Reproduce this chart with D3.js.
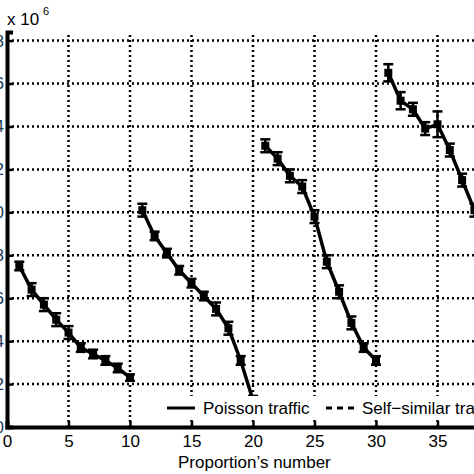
<!DOCTYPE html>
<html lang="en">
<head>
<meta charset="UTF-8">
<script src="https://d3js.org/d3.v7.min.js"></script>
<style>
  body { margin: 0; background: #fff; font-family: "Liberation Sans", Arial, sans-serif; }
  svg { display: block; overflow: hidden; }
</style>
</head>
<body>
<div class="chart"></div>
<script>
const proportions = d3.range(1, 41);
const delayValues = [7.5, 6.4, 5.7, 5.0, 4.4, 3.7, 3.4, 3.1, 2.75, 2.3,
                     10.1, 8.9, 8.1, 7.3, 6.7, 6.1, 5.5, 4.6, 3.1, 1.25,
                     13.1, 12.5, 11.7, 11.2, 9.8, 7.7, 6.3, 4.85, 3.7, 3.1,
                     16.5, 15.2, 14.8, 13.9, 14.1, 12.9, 11.5, 10.1, 8.7, 7.3];
const delayErrors = [0.2, 0.3, 0.3, 0.3, 0.3, 0.2, 0.2, 0.2, 0.2, 0.15,
                     0.3, 0.2, 0.2, 0.2, 0.2, 0.2, 0.3, 0.3, 0.2, 0.2,
                     0.3, 0.3, 0.3, 0.3, 0.3, 0.3, 0.3, 0.3, 0.2, 0.2,
                     0.4, 0.4, 0.3, 0.3, 0.6, 0.3, 0.3, 0.3, 0.3, 0.3];
const xTicks = [0, 5, 10, 15, 20, 25, 30, 35, 40];
const yTicks = [0, 2, 4, 6, 8, 10, 12, 14, 16, 18];

const svgWidth = 474, svgHeight = 474;
const margin = { top: 32, left: 7, bottom: 47 };

const svg = d3.select('.chart').append('svg')
  .attr('width', svgWidth).attr('height', svgHeight);

const x = d3.scaleLinear().domain([0, 40]).range([margin.left, margin.left + 492]);
const y = d3.scaleLinear().domain([0, 18.4]).range([svgHeight - margin.bottom, margin.top]);

const grid = svg.append('g').attr('stroke', '#000').attr('stroke-width', 2.5)
  .attr('stroke-dasharray', '2,3');
grid.selectAll('.gx').data(xTicks.slice(1)).enter().append('line')
  .attr('x1', d => x(d)).attr('x2', d => x(d)).attr('y1', y(0)).attr('y2', margin.top);
grid.selectAll('.gy').data(yTicks.slice(1)).enter().append('line')
  .attr('x1', x(0)).attr('x2', x(40)).attr('y1', d => y(d)).attr('y2', d => y(d));

const xAxis = svg.append('g').attr('transform', `translate(0,${y(0)})`)
  .call(d3.axisBottom(x).tickValues(xTicks).tickSize(-6).tickPadding(8));
const yAxis = svg.append('g').attr('transform', `translate(${x(0)},0)`)
  .call(d3.axisLeft(y).tickValues(yTicks).tickSize(-6).tickPadding(3));
[xAxis, yAxis].forEach(a => {
  a.select('.domain').attr('stroke-width', 4);
  a.selectAll('.tick line').attr('stroke-width', 2.5);
  a.selectAll('text').attr('font-size', 17).attr('fill', '#000')
    .attr('font-family', '"Liberation Sans", Arial, sans-serif');
});
yAxis.selectAll('text').attr('fill', '#1a3a5a');

const pts = proportions.map((p, i) => ({ p, v: delayValues[i], e: delayErrors[i], seg: Math.floor(i / 10) }));
const line = d3.line().x(d => x(d.p)).y(d => y(d.v));
d3.groups(pts, d => d.seg).forEach(([k, seg]) => {
  svg.append('path').datum(seg).attr('d', line)
    .attr('fill', 'none').attr('stroke', '#000').attr('stroke-width', 3.5);
});
const eb = svg.append('g').attr('stroke', '#000').attr('stroke-width', 2.5);
pts.forEach(d => {
  eb.append('line').attr('x1', x(d.p)).attr('x2', x(d.p)).attr('y1', y(d.v - d.e)).attr('y2', y(d.v + d.e));
  [d.v - d.e, d.v + d.e].forEach(v => eb.append('line')
    .attr('x1', x(d.p) - 5).attr('x2', x(d.p) + 5).attr('y1', y(v)).attr('y2', y(v)));
});
svg.selectAll('.mk').data(pts).enter().append('rect')
  .attr('x', d => x(d.p) - 4).attr('y', d => y(d.v) - 4).attr('width', 8).attr('height', 8).attr('fill', '#000');

// legend
const lg = svg.append('g').attr('font-size', 17);
lg.append('rect').attr('x', 160).attr('y', 396).attr('width', 330).attr('height', 24).attr('fill', '#fff');
lg.append('line').attr('x1', 167).attr('x2', 195).attr('y1', 408).attr('y2', 408).attr('stroke', '#000').attr('stroke-width', 3);
lg.append('text').attr('x', 203).attr('y', 414).text('Poisson traffic');
lg.append('line').attr('x1', 326).attr('x2', 358).attr('y1', 408).attr('y2', 408).attr('stroke', '#000')
  .attr('stroke-width', 3).attr('stroke-dasharray', '6,5');
lg.append('text').attr('x', 362).attr('y', 414).text('Self\u2212similar traffic');

svg.append('text').attr('x', 7).attr('y', 25).attr('font-size', 17).text('x 10');
svg.append('text').attr('x', 43).attr('y', 15).attr('font-size', 11).text('6');
svg.append('text').attr('x', 178).attr('y', 468).attr('font-size', 17).text('Proportion\u2019s number');
</script>
</body>
</html>
